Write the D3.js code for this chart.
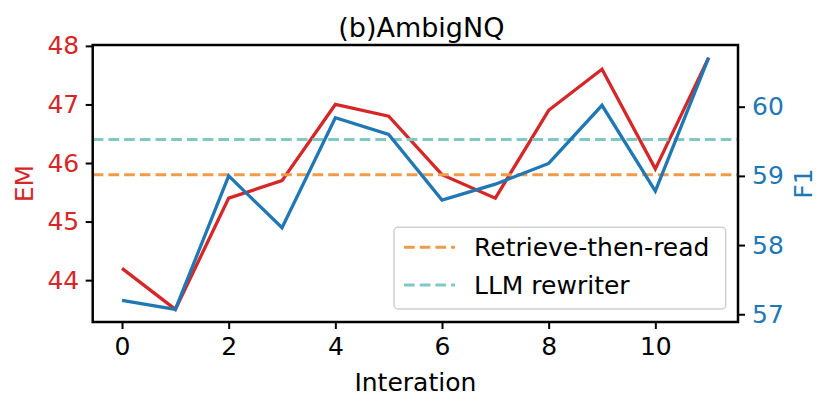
<!DOCTYPE html>
<html>
<head>
<meta charset="utf-8">
<script src="https://cdn.jsdelivr.net/npm/d3@7"></script>
<style>
  body { margin: 0; background: #fff; }
  svg { display: block; font-family: "DejaVu Sans", sans-serif; }
</style>
</head>
<body>
<div id="chart"></div>
<script>
const iterations = [0, 1, 2, 3, 4, 5, 6, 7, 8, 9, 10, 11];
const emValues = [44.2, 43.5, 45.4, 45.7, 47.0, 46.8, 45.8, 45.4, 46.9, 47.6, 45.9, 47.8];
const f1Values = [57.2, 57.07, 59.0, 58.25, 59.84, 59.6, 58.65, 58.88, 59.18, 60.02, 58.78, 60.71];
const baselineNames = ["Retrieve-then-read", "LLM rewriter"];
const baselineEM = [45.8, 46.4];
const xTicks = [0, 2, 4, 6, 8, 10];
const emTicks = [44, 45, 46, 47, 48];
const f1Ticks = [57, 58, 59, 60];

var w = 831;
var h = 407;

var margin = {
  top: 45,
  bottom: 85,
  left: 92.7,
  right: 93
}

var width = w - margin.left - margin.right
var height = h - margin.top - margin.bottom

var red = "#d62728";
var blue = "#1f77b4";
var baseColors = ["#ef9b4a", "#7fc8c4"];

var svg = d3.select("#chart").append("svg")
  .attr("width", w)
  .attr("height", h)

var chart = svg.append("g")
  .attr("transform", "translate(" + margin.left + "," + margin.top + ")");

///////////////////////////// Scales (matplotlib-style 5% margins)

var x = d3.scaleLinear()
  .domain([-0.55, 11.55])
  .range([0, width])

var emExt = d3.extent(emValues)
var emPad = (emExt[1] - emExt[0]) * 0.05
var yEM = d3.scaleLinear()
  .domain([emExt[0] - emPad, emExt[1] + emPad])
  .range([height, 0])

var f1Ext = d3.extent(f1Values)
var f1Pad = (f1Ext[1] - f1Ext[0]) * 0.05
var yF1 = d3.scaleLinear()
  .domain([f1Ext[0] - f1Pad, f1Ext[1] + f1Pad])
  .range([height, 0])

///////////////////////////// Lines

var emLine = d3.line()
  .x(function (d, i) { return x(iterations[i]) })
  .y(function (d) { return yEM(d) })

var f1Line = d3.line()
  .x(function (d, i) { return x(iterations[i]) })
  .y(function (d) { return yF1(d) })

chart.append("path")
  .datum(emValues)
  .attr("fill", "none")
  .attr("stroke", red)
  .attr("stroke-width", 3.3)
  .attr("d", emLine);

chart.selectAll(".baseline")
  .data(baselineEM)
  .enter().append("line")
  .attr("class", "baseline")
  .attr("x1", 0)
  .attr("x2", width)
  .attr("y1", function (d) { return yEM(d) })
  .attr("y2", function (d) { return yEM(d) })
  .attr("stroke", function (d, i) { return baseColors[i] })
  .attr("stroke-width", 3)
  .attr("stroke-dasharray", "10.7,5");

chart.append("path")
  .datum(f1Values)
  .attr("fill", "none")
  .attr("stroke", blue)
  .attr("stroke-width", 3.3)
  .attr("d", f1Line);

///////////////////////////// Axes

var fmt = d3.format("d")

var xAxis = chart.append("g")
  .attr("transform", "translate(0," + height + ")")
  .call(d3.axisBottom(x).tickValues(xTicks).tickFormat(fmt).tickSize(7).tickPadding(8).tickSizeOuter(0))

var yAxis = chart.append("g")
  .call(d3.axisLeft(yEM).tickValues(emTicks).tickFormat(fmt).tickSize(7).tickPadding(6.5).tickSizeOuter(0))

var y2Axis = chart.append("g")
  .attr("transform", "translate(" + width + ",0)")
  .call(d3.axisRight(yF1).tickValues(f1Ticks).tickFormat(fmt).tickSize(7).tickPadding(7).tickSizeOuter(0))

chart.selectAll(".domain").remove()
chart.selectAll(".tick line").attr("stroke", "#000").attr("stroke-width", 2)
chart.selectAll(".tick text").attr("font-size", 25).attr("font-family", "DejaVu Sans")
xAxis.selectAll(".tick text").attr("fill", "#000")
yAxis.selectAll(".tick text").attr("fill", red)
y2Axis.selectAll(".tick text").attr("fill", blue)

chart.append("rect")
  .attr("width", width)
  .attr("height", height)
  .attr("fill", "none")
  .attr("stroke", "#000")
  .attr("stroke-width", 2.5)

///////////////////////////// Labels

svg.append("text")
  .attr("x", margin.left + width / 2 + 6)
  .attr("y", 37)
  .attr("text-anchor", "middle")
  .attr("font-size", 27)
  .text("(b)AmbigNQ")

svg.append("text")
  .attr("x", margin.left + width / 2)
  .attr("y", 391)
  .attr("text-anchor", "middle")
  .attr("font-size", 25)
  .text("Interation")

svg.append("text")
  .attr("transform", "translate(33," + (margin.top + height / 2) + ") rotate(-90)")
  .attr("text-anchor", "middle")
  .attr("font-size", 25)
  .attr("fill", red)
  .text("EM")

svg.append("text")
  .attr("transform", "translate(812," + (margin.top + height / 2) + ") rotate(-90)")
  .attr("text-anchor", "middle")
  .attr("font-size", 25)
  .attr("fill", blue)
  .text("F1")

///////////////////////////// Legend

var legend = svg.append("g")
  .attr("transform", "translate(394,227.3)")

legend.append("rect")
  .attr("width", 331.7)
  .attr("height", 81.7)
  .attr("rx", 4)
  .attr("fill", "#fff")
  .attr("fill-opacity", 0.8)
  .attr("stroke", "#d0d0d0")
  .attr("stroke-width", 1.5)

var items = legend.selectAll(".item")
  .data(baselineNames)
  .enter().append("g")
  .attr("class", "item")
  .attr("transform", function (d, i) { return "translate(0," + (20 + i * 37.7) + ")" })

items.append("line")
  .attr("x1", 10)
  .attr("x2", 61)
  .attr("stroke", function (d, i) { return baseColors[i] })
  .attr("stroke-width", 3)
  .attr("stroke-dasharray", "10.7,5")

items.append("text")
  .attr("x", 80)
  .attr("y", 9)
  .attr("font-size", 25)
  .text(function (d) { return d })
</script>
</body>
</html>
